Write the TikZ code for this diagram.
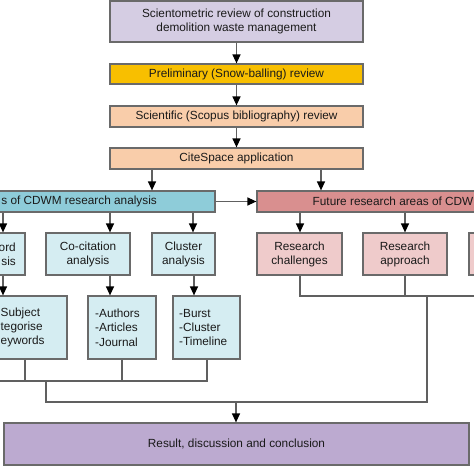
\documentclass[tikz,border=0pt]{standalone}
\usepackage{fontspec}
\setmainfont{Liberation Sans}
\usetikzlibrary{arrows.meta}
\definecolor{bordc}{HTML}{6A6A6A}
\definecolor{linec}{HTML}{606060}
\definecolor{txtc}{HTML}{1A1A1A}
\definecolor{topc}{HTML}{D5CDE3}
\definecolor{prec}{HTML}{F8BF00}
\definecolor{peachc}{HTML}{F9CDAA}
\definecolor{anac}{HTML}{8ECCD9}
\definecolor{lbluec}{HTML}{D5EDF2}
\definecolor{redc}{HTML}{D98F8F}
\definecolor{lredc}{HTML}{EFCBCB}
\definecolor{resc}{HTML}{BCAAD0}
\begin{document}
\begin{tikzpicture}[x=1pt,y=-1pt,
  box/.style={draw=bordc, line width=1.2pt, inner sep=0pt, align=center, text=txtc,
    font=\fontsize{11.8}{14}\selectfont},
  lbl/.style={inner sep=0pt, text=txtc, font=\fontsize{11.8}{14.3}\selectfont},
  conn/.style={draw=linec, line width=1.2pt},
  arr/.style={conn, -{Triangle[length=9pt,width=8pt,color=black]}}]
\useasboundingbox (0,0) rectangle (474,474);
\clip (0,0) rectangle (474,474);
\fill[white] (0,0) rectangle (474,474);

% main column
\node[box, fill=topc, minimum width=253pt, minimum height=41pt] (top) at (236.5,21.5)
  {Scientometric review of construction\\demolition waste management};
\node[box, fill=prec, minimum width=253pt, minimum height=20pt] (pre) at (236.5,74)
  {Preliminary (Snow-balling) review};
\node[box, fill=peachc, minimum width=253pt, minimum height=21pt] (sci) at (236.5,116.5)
  {Scientific (Scopus bibliography) review};
\node[box, fill=peachc, minimum width=253pt, minimum height=21pt] (cite) at (236.5,158.5)
  {CiteSpace application};

% analysis branch
\node[box, fill=anac, minimum width=335pt, minimum height=21pt] (ana) at (47.5,201.5) {};
\node[lbl, anchor=east] (anat) at (157,201.5) {s of CDWM research analysis};
\node[box, fill=redc, minimum width=300pt, minimum height=21pt] (fut) at (407,201.5) {};
\node[lbl, anchor=west] (futt) at (312.5,201.5) {Future research areas of CDW};

\node[box, fill=lbluec, minimum width=95pt, minimum height=42pt] (kw) at (-22.5,254) {};
\node[lbl, anchor=east, align=right] (kwt) at (16,254) {ord\\sis};
\node[box, fill=lbluec, minimum width=84pt, minimum height=42pt] (coc) at (88,254)
  {Co-citation\\analysis};
\node[box, fill=lbluec, minimum width=63pt, minimum height=42pt] (clu) at (183.5,254)
  {Cluster\\analysis};

\node[box, fill=lredc, minimum width=85pt, minimum height=42pt] (cha) at (299.5,254)
  {Research\\challenges};
\node[box, fill=lredc, minimum width=84pt, minimum height=42pt] (app) at (405,254)
  {Research\\approach};
\node[box, fill=lredc, minimum width=90pt, minimum height=42pt] (thr) at (514,254) {};

\node[box, fill=lbluec, minimum width=117pt, minimum height=63pt] (sub) at (8.5,327.5) {};
\node[lbl, anchor=west, align=left] (subt) at (0.5,327.5) {Subject\\tegorise\\eywords};
\node[box, fill=lbluec, minimum width=68pt, minimum height=63pt] (aut) at (122,327.5) {};
\node[lbl, anchor=west, align=left] (autt) at (95,327.5) {-Authors\\-Articles\\-Journal};
\node[box, fill=lbluec, minimum width=67pt, minimum height=63pt] (bur) at (206.5,327.5) {};
\node[lbl, anchor=west, align=left] (burt) at (179,327.5) {-Burst\\-Cluster\\-Timeline};

\node[box, fill=resc, minimum width=465pt, minimum height=42pt] (res) at (236.5,444)
  {Result, discussion and conclusion};

% connectors
\draw[arr] (top) -- (pre);
\draw[arr] (pre) -- (sci);
\draw[arr] (sci) -- (cite);
\draw[arr] (cite.south -| 152,0) -- (ana.north -| 152,0);
\draw[arr] (cite.south -| 321,0) -- (fut.north -| 321,0);
\draw[arr] (ana.east) -- (fut.west);

\draw[arr] (ana.south -| 3,0) -- (kw.north -| 3,0);
\draw[arr] (ana.south -| 110,0) -- (coc.north -| 110,0);
\draw[arr] (ana.south -| 193,0) -- (clu.north -| 193,0);
\draw[arr] (fut.south -| 300,0) -- (cha.north -| 300,0);
\draw[arr] (fut.south -| 405,0) -- (app.north -| 405,0);

\draw[arr] (kw.south -| 3,0) -- (sub.north -| 3,0);
\draw[arr] (coc.south -| 110,0) -- (aut.north -| 110,0);
\draw[arr] (clu.south -| 194,0) -- (bur.north -| 194,0);

\coordinate (jl) at (-20,381);
\coordinate (jr) at (207,381);
\draw[conn] (sub.south -| 25,0) -- (25,381);
\draw[conn] (aut.south) -- (aut.south |- jr);
\draw[conn] (bur.south -| jr) -- (jr) -- (jl);

\coordinate (rr) at (500,296);
\draw[conn] (cha.south -| 300,0) -- (300,296) -- (rr);
\draw[conn] (app.south) -- (app.south |- rr);

\coordinate (bl) at (46,402);
\coordinate (br) at (427,402);
\draw[conn] (46,381) -- (bl) -- (br) -- (427,296);
\draw[arr] (236,402) -- (res.north -| 236,0);
\end{tikzpicture}
\end{document}
